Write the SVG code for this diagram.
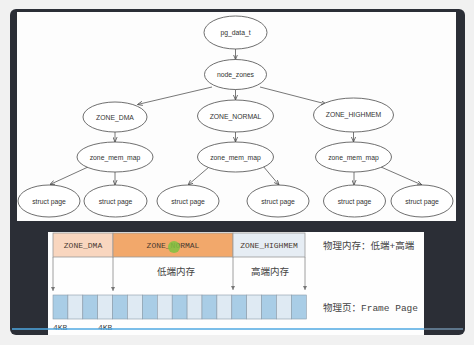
<svg xmlns="http://www.w3.org/2000/svg" width="474" height="345" viewBox="0 0 474 345">
<style>
.node ellipse{fill:#fff;stroke:#4a4a4a;stroke-width:0.8}
.node text{font-family:"Liberation Sans","DejaVu Sans",sans-serif;font-size:6.8px;fill:#333;text-anchor:middle;dominant-baseline:central}
.edges line{stroke:#555;stroke-width:0.8;marker-end:url(#arr)}
.zone rect{stroke:#999;stroke-width:0.8}
.zone text{font-family:"Liberation Mono",monospace;font-size:8px;fill:#4a3a30;text-anchor:middle;dominant-baseline:central}
.cjk{font-family:"Liberation Mono","Noto Sans CJK SC",monospace;font-size:9.5px;fill:#444;dominant-baseline:central}
.mono{font-family:"Liberation Mono",monospace;font-size:8px;fill:#444}
.vl line{stroke:#888;stroke-width:0.8;marker-end:url(#tri)}
.cd{fill:#a9cde6;stroke:#8a9aa8;stroke-width:0.6}
.cl{fill:#dfeaf3;stroke:#8a9aa8;stroke-width:0.6}
</style>
<defs>
<marker id="arr" viewBox="0 0 6 6" refX="6" refY="3" markerWidth="5" markerHeight="5" markerUnits="userSpaceOnUse" orient="auto">
<path d="M0,0.5 L6,3 L0,5.5" fill="none" stroke="#555" stroke-width="1"/>
</marker>
<marker id="tri" viewBox="0 0 6 6" refX="6" refY="3" markerWidth="4" markerHeight="4" markerUnits="userSpaceOnUse" orient="auto">
<path d="M0,0 L6,3 L0,6 Z" fill="#777"/>
</marker>
</defs>
<rect x="0" y="0" width="474" height="345" fill="#f1f1f1"/>
<rect x="10" y="9" width="455" height="326" rx="6" fill="#2b2e36"/>
<rect x="17" y="12" width="439" height="209" fill="#fdfdfd"/>

<g class="edges">
<line x1="235.5" y1="49" x2="235.5" y2="59.5"/>
<line x1="212" y1="87" x2="137.5" y2="104.5"/>
<line x1="235.5" y1="89.5" x2="235.5" y2="100"/>
<line x1="260" y1="87" x2="326" y2="104"/>
<line x1="115" y1="132" x2="115" y2="142"/>
<line x1="235.5" y1="132" x2="235.5" y2="142"/>
<line x1="353.5" y1="132" x2="353.5" y2="142"/>
<line x1="88" y1="167" x2="50" y2="184.5"/>
<line x1="115" y1="172" x2="115" y2="185"/>
<line x1="209" y1="167" x2="188" y2="185"/>
<line x1="263" y1="166" x2="279" y2="185"/>
<line x1="354" y1="172" x2="354" y2="185"/>
<line x1="381" y1="167" x2="422" y2="185"/>
</g>

<g id="pg_data_t" class="node"><ellipse cx="235.5" cy="32.5" rx="31.5" ry="16.5"/><text x="235.5" y="32.5">pg_data_t</text></g>
<g id="node_zones" class="node"><ellipse cx="235.5" cy="74.5" rx="31" ry="15"/><text x="235.5" y="74.5">node_zones</text></g>
<g id="zone_dma" class="node"><ellipse cx="115" cy="117" rx="32" ry="15"/><text x="115" y="117">ZONE_DMA</text></g>
<g id="zone_normal" class="node"><ellipse cx="235.5" cy="116" rx="38" ry="16"/><text x="235.5" y="116">ZONE_NORMAL</text></g>
<g id="zone_highmem" class="node"><ellipse cx="353.5" cy="115" rx="40" ry="17"/><text x="353.5" y="114">ZONE_HIGHMEM</text></g>
<g id="zmm_dma" class="node"><ellipse cx="115" cy="157" rx="38" ry="15"/><text x="115" y="157">zone_mem_map</text></g>
<g id="zmm_normal" class="node"><ellipse cx="235.5" cy="157" rx="38" ry="15"/><text x="235.5" y="157">zone_mem_map</text></g>
<g id="zmm_highmem" class="node"><ellipse cx="353.5" cy="157" rx="38" ry="15"/><text x="353.5" y="157">zone_mem_map</text></g>
<g id="sp1" class="node"><ellipse cx="49" cy="201" rx="31" ry="16"/><text x="49" y="201">struct page</text></g>
<g id="sp2" class="node"><ellipse cx="115.5" cy="201" rx="31.5" ry="16"/><text x="115.5" y="201">struct page</text></g>
<g id="sp3" class="node"><ellipse cx="188" cy="201" rx="31" ry="16"/><text x="188" y="201">struct page</text></g>
<g id="sp4" class="node"><ellipse cx="278" cy="201" rx="31" ry="16"/><text x="278" y="201">struct page</text></g>
<g id="sp5" class="node"><ellipse cx="354.5" cy="201" rx="31" ry="16"/><text x="354.5" y="201">struct page</text></g>
<g id="sp6" class="node"><ellipse cx="422" cy="201" rx="31" ry="16"/><text x="422" y="201">struct page</text></g>

<rect x="48" y="232" width="376" height="103" fill="#fefefe"/>
<g id="mem_zones" class="zone">
<rect x="53" y="233" width="60" height="24" fill="#f9d6bf"/><text x="83" y="245">ZONE_DMA</text>
<rect x="113" y="233" width="120" height="24" fill="#f2a86b"/><text x="173" y="245">ZONE_NORMAL</text>
<rect x="233" y="233" width="72" height="24" fill="#e6edf4"/><text x="269" y="245">ZONE_HIGHMEM</text>
</g>
<circle cx="174" cy="247" r="6" fill="#7fc241" opacity="0.85"/>
<g class="vl">
<line x1="53" y1="257" x2="53" y2="291"/>
<line x1="113" y1="257" x2="113" y2="291"/>
<line x1="233" y1="257" x2="233" y2="290"/>
<line x1="305" y1="257" x2="305" y2="290"/>
</g>
<text class="cjk" x="176" y="272" text-anchor="middle">低端内存</text>
<text class="cjk" x="270" y="272" text-anchor="middle">高端内存</text>
<text class="cjk" x="323" y="246">物理内存：低端+高端</text>
<text class="cjk" x="323" y="308">物理页：Frame Page</text>
<g id="pages">
<rect class="cd" x="53" y="295" width="14.9" height="24"/>
<rect class="cl" x="67.9" y="295" width="14.9" height="24"/>
<rect class="cd" x="82.8" y="295" width="14.9" height="24"/>
<rect class="cl" x="97.7" y="295" width="14.9" height="24"/>
<rect class="cd" x="112.6" y="295" width="14.9" height="24"/>
<rect class="cl" x="127.5" y="295" width="14.9" height="24"/>
<rect class="cd" x="142.4" y="295" width="14.9" height="24"/>
<rect class="cl" x="157.3" y="295" width="14.9" height="24"/>
<rect class="cd" x="172.2" y="295" width="14.9" height="24"/>
<rect class="cl" x="187.1" y="295" width="14.9" height="24"/>
<rect class="cd" x="202" y="295" width="14.9" height="24"/>
<rect class="cl" x="216.9" y="295" width="14.9" height="24"/>
<rect class="cd" x="231.8" y="295" width="14.9" height="24"/>
<rect class="cl" x="246.7" y="295" width="14.9" height="24"/>
<rect class="cd" x="261.6" y="295" width="14.9" height="24"/>
<rect class="cl" x="276.5" y="295" width="14.9" height="24"/>
<rect class="cd" x="291.4" y="295" width="14.9" height="24"/>
</g>
<text class="mono" x="53" y="330">4KB</text>
<text class="mono" x="98" y="330">4KB</text>
<line x1="12" y1="329" x2="424" y2="329" stroke="#4fa9e2" stroke-width="1.5"/>
<line x1="424" y1="329" x2="463" y2="329" stroke="#6f8ea8" stroke-width="1.5"/>
</svg>
